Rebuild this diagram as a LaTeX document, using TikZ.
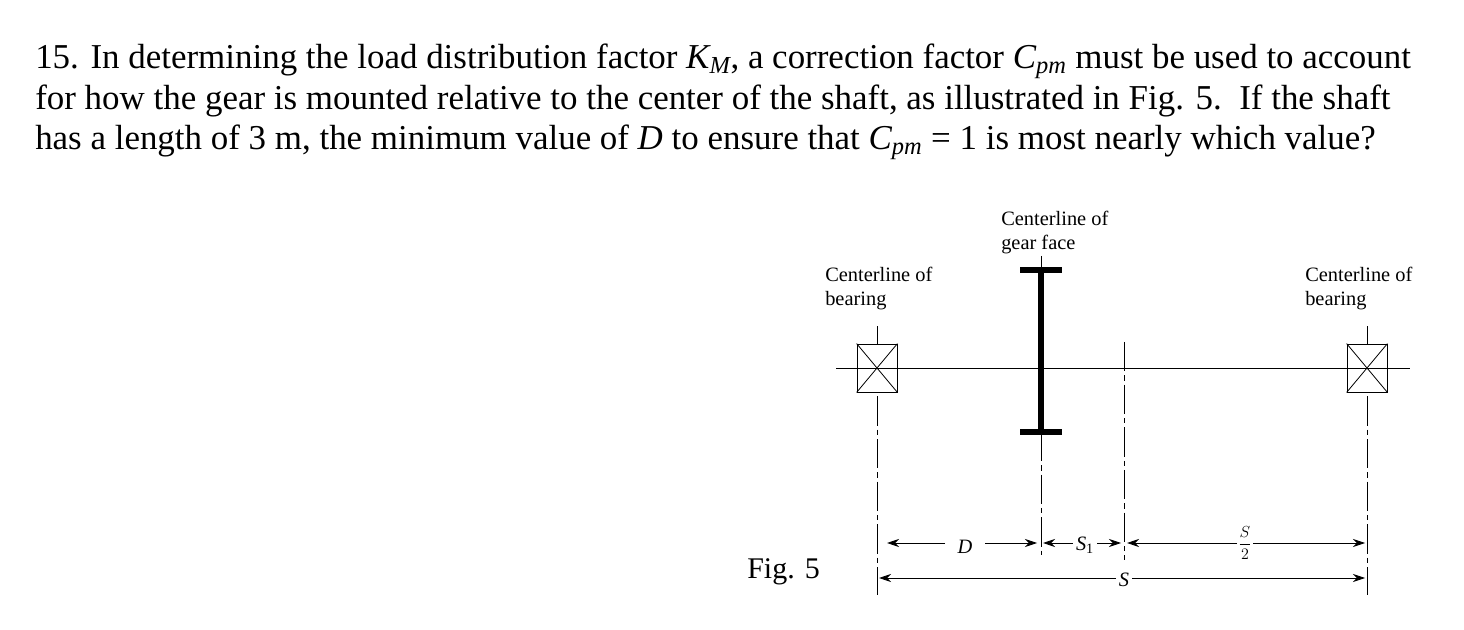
\documentclass[tikz,border=0pt]{standalone}
\usepackage{fontspec}
\setmainfont{Liberation Serif}
\usetikzlibrary{arrows.meta}
\begin{document}
\begin{tikzpicture}[x=0.75pt,y=-0.75pt,
  thin line/.style={line width=0.6pt},
  dashdot/.style={line width=0.6pt,dash pattern=on 22pt off 3pt on 4pt off 3pt},
  dim/.style={line width=0.6pt,-{Stealth[length=9pt,width=6pt]}},
  lbl/.style={font=\fontsize{15.3}{18}\selectfont,align=left,inner sep=0pt},
  q/.style={font=\fontsize{26.2}{30.5}\selectfont,anchor=base west,inner sep=0pt}]
\useasboundingbox (0,0) rectangle (1464,630);
\node[q] (l1) at (35,69) {15. In determining the load distribution factor \textit{K\textsubscript{M}}, a correction factor \textit{C\textsubscript{pm}} must be used to account};
\node[q] (l2) at (35,110) {for how the gear is mounted relative to the center of the shaft, as illustrated in Fig. 5.\ \ If the shaft};
\node[q] (l3) at (35,150) {has a length of 3 m, the minimum value of \textit{D} to ensure that \textit{C\textsubscript{pm}} = 1 is most nearly which value?};
% shaft
\coordinate (sL) at (836,368); \coordinate (sR) at (1410,368);
\draw[thin line] (sL) -- (sR);
% bearings
\foreach \n/\x in {bl/877,br/1367}{
  \node[draw,thin line,minimum width=30,minimum height=36,inner sep=0] (\n) at (\x,368) {};
  \draw[thin line] (\n.north west) -- (\n.south east) (\n.north east) -- (\n.south west);
  \draw[thin line] (\n.north) -- ++(0,-18);
  \draw[dashdot] (\n.south) ++(0,4) -- (\x,595);
}
% gear
\coordinate (gt) at (1041,270); \coordinate (gb) at (1041,432);
\draw[line width=4pt] (gt) -- (gb);
\draw[line width=4pt] (1020,270) -- (1062,270) (1020,432) -- (1062,432);
\draw[thin line] (1041,256) -- (gt);
\draw[dashdot] (gb) -- (1041,555);
% shaft center line
\draw[dashdot] (1124,342) -- (1124,560);
% labels
\node[lbl,anchor=north west] (tl) at (1001,211) {Centerline of\\gear face};
\node[lbl,anchor=north west] (ll) at (825,267) {Centerline of\\bearing};
\node[lbl,anchor=north west] (rl) at (1305,267) {Centerline of\\bearing};
% dimensions
\node[lbl,font=\fontsize{15.3}{18}\selectfont\itshape] (D) at (965,547) {D};
\draw[dim] (945,543) -- (887,543);
\draw[dim] (985,543) -- (1037,543);
\node[lbl,font=\fontsize{15.3}{18}\selectfont] (S1) at (1085,545) {\textit{S}\textsubscript{1}};
\draw[dim] (S1.west) ++(-3,-2) -- (1043,543);
\draw[dim] (S1.east) ++(3,-2) -- (1121,543);
\node[lbl,font=\fontsize{12}{13}\selectfont] (Sh) at (1245,543) {$\displaystyle\frac{S}{2}$};
\draw[dim] (1237,543) -- (1127,543);
\draw[dim] (1253,543) -- (1365,543);
\node[lbl,font=\fontsize{15.3}{18}\selectfont\itshape] (S) at (1124,580) {S};
\draw[dim] (1116,578) -- (879,578);
\draw[dim] (1132,578) -- (1365,578);
\node[font=\fontsize{22.5}{26}\selectfont,anchor=base west,inner sep=0] (fig) at (747,579) {Fig. 5};
\end{tikzpicture}
\end{document}
